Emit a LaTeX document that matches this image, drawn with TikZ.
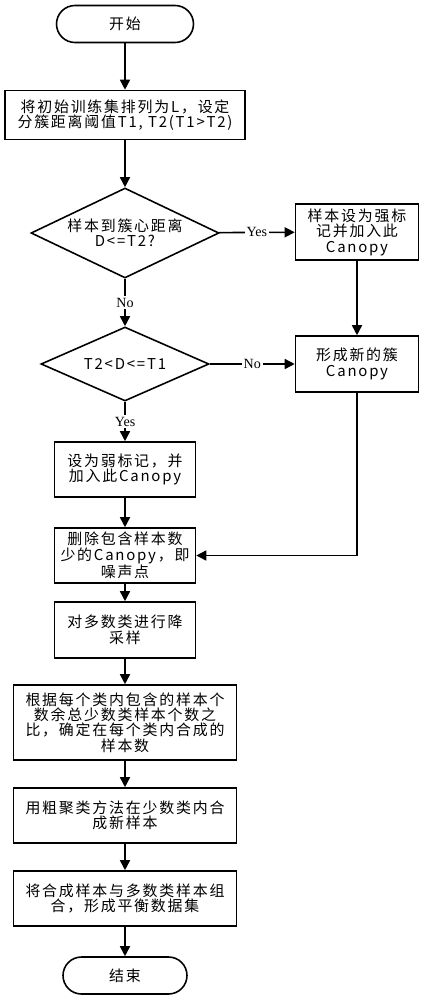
\documentclass[tikz,border=0pt]{standalone}
\usepackage{fontspec}
\setmainfont{Noto Sans CJK SC}[LetterSpace=12]
\newfontfamily\lblfont{Liberation Serif}
\usetikzlibrary{arrows.meta,shapes.geometric}

\begin{document}
\begin{tikzpicture}[
    term/.style={draw, line width=0.9pt, rounded corners=0.37cm, minimum width=2.74cm, minimum height=0.74cm, inner sep=0pt, align=center, font=\fontsize{8.5pt}{8.8pt}\selectfont},
    proc/.style={draw, line width=0.9pt, minimum width=2.82cm, minimum height=1.1cm, inner sep=0pt, align=center, font=\fontsize{8.5pt}{8.8pt}\selectfont},
    dec/.style={draw, diamond, line width=0.9pt, inner sep=0pt, align=center, font=\fontsize{8.5pt}{8.8pt}\selectfont},
    arr/.style={-{Triangle[length=0.2cm, width=0.2cm]}, line width=0.9pt},
    lbl/.style={font=\lblfont\fontsize{8pt}{8pt}\selectfont, fill=white, inner sep=1pt}
]
\useasboundingbox (0,0) rectangle (8.5,-20);

\node[term] (start) at (2.5,-0.48) {开始};
\node[proc, minimum width=4.8cm, minimum height=0.98cm] (init) at (2.5,-2.3) {将初始训练集排列为L，设定\\分簇距离阈值T1, T2(T1>T2)};
\node[dec, aspect=2.09, minimum width=3.76cm, minimum height=1.8cm] (chk1) at (2.5,-4.66) {样本到簇心距离\\D<=T2?};
\node[proc, minimum width=2.46cm, minimum height=1.12cm] (strong) at (7.14,-4.64) {样本设为强标\\记并加入此\\Canopy};
\node[dec, aspect=2.27, minimum width=3.36cm, minimum height=1.48cm] (chk2) at (2.5,-7.28) {T2<D<=T1};
\node[proc, minimum width=2.46cm, minimum height=1.12cm] (newc) at (7.14,-7.28) {形成新的簇\\Canopy};
\node[proc] (weak) at (2.5,-9.39) {设为弱标记，并\\加入此Canopy};
\node[proc] (del) at (2.5,-11.11) {删除包含样本数\\少的Canopy，即\\噪声点};
\node[proc, minimum height=1.12cm] (down) at (2.5,-12.6) {对多数类进行降\\采样};
\node[proc, minimum width=4.46cm, minimum height=1.5cm] (ratio) at (2.5,-14.45) {根据每个类内包含的样本个\\数余总少数类样本个数之\\比，确定在每个类内合成的\\样本数};
\node[proc, minimum width=4.46cm] (synth) at (2.5,-16.31) {用粗聚类方法在少数类内合\\成新样本};
\node[proc, minimum width=4.46cm] (merge) at (2.5,-17.97) {将合成样本与多数类样本组\\合，形成平衡数据集};
\node[term, minimum width=2.48cm] (stop) at (2.5,-19.51) {结束};

\draw[arr] (start) -- (init);
\draw[arr] (init) -- (chk1);
\draw[arr] (chk1) -- node[lbl] {Yes} (strong);
\draw[arr] (chk1) -- node[lbl] {No} (chk2);
\draw[arr] (strong) -- (newc);
\draw[arr] (chk2) -- node[lbl] {No} (newc);
\draw[arr] (chk2) -- node[lbl] {Yes} (weak);
\draw[arr] (weak) -- (del);
\draw[arr] (newc) |- (del);
\draw[arr] (del) -- (down);
\draw[arr] (down) -- (ratio);
\draw[arr] (ratio) -- (synth);
\draw[arr] (synth) -- (merge);
\draw[arr] (merge) -- (stop);
\end{tikzpicture}
\end{document}
